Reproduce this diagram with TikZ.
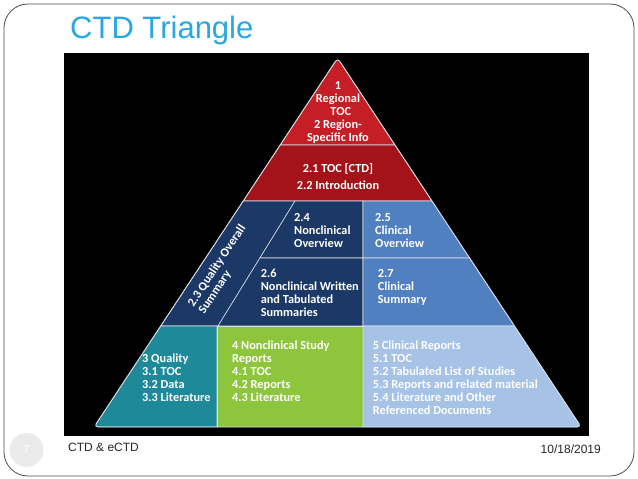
\documentclass[tikz,border=0pt]{standalone}
\usepackage{fontspec}
\setmainfont{Carlito}
\newfontfamily\slidefont{Liberation Sans}
\usetikzlibrary{positioning}
\definecolor{titleblue}{RGB}{41,168,224}
\definecolor{topred}{RGB}{198,30,38}
\definecolor{bandred}{RGB}{163,19,25}
\definecolor{navyblue}{RGB}{27,56,102}
\definecolor{midblue}{RGB}{80,128,192}
\definecolor{ctdteal}{RGB}{30,138,153}
\definecolor{ctdgreen}{RGB}{141,197,60}
\definecolor{paleblue}{RGB}{166,194,230}
\definecolor{edgegray}{RGB}{215,222,230}
\tikzset{%
  every block/.style={
    draw=edgegray,
    line width=0.6pt,
    line join=round
  },
  every caption/.style={
    text=white,
    font=\bfseries\fontsize{12.3}{13}\selectfont,
    inner sep=0pt,
    align=left,
    anchor=north west
  },
  every footer/.style={
    font=\slidefont\fontsize{12}{14}\selectfont,
    text=black!85,
    inner sep=0pt
  }
}

\begin{document}
\begin{tikzpicture}[x=1pt,y=-1pt]
		\useasboundingbox (0,0) rectangle (638,479);
		%% slide frame and title
		\draw[rounded corners=24pt, line width=0.8pt, draw=black!70] (4,4) rectangle (634,476);
		\node[anchor=base west, text=titleblue, font=\slidefont\fontsize{31}{36}\selectfont, inner sep=0pt] (title) at (70,38.3) {CTD Triangle};
		\fill[black] (64,53) rectangle (589,436);
		%% pyramid pieces
		\begin{scope}
		\clip[rounded corners=4pt] (337.6,58) -- (581.2,427) -- (94,427) -- cycle;
		% red top
		\filldraw[every block, fill=topred] (337.6,58) -- (395,145) -- (280.2,145) -- cycle;
		\filldraw[every block, fill=bandred] (280.2,145) -- (395,145) -- (432,201) -- (243.2,201) -- cycle;
		% summaries
		\filldraw[every block, fill=navyblue] (243.2,201) -- (295,201) -- (218,326) -- (160.7,326) -- cycle;
		\filldraw[every block, fill=navyblue] (295,201) -- (363,201) -- (363,258) -- (259.9,258) -- cycle;
		\filldraw[every block, fill=navyblue] (259.9,258) -- (363,258) -- (363,326) -- (218,326) -- cycle;
		\filldraw[every block, fill=midblue] (363,201) -- (432,201) -- (469.6,258) -- (363,258) -- cycle;
		\filldraw[every block, fill=midblue] (363,258) -- (469.6,258) -- (514.5,326) -- (363,326) -- cycle;
		% modules 3 to 5
		\filldraw[every block, fill=ctdteal] (160.7,326) -- (217,326) -- (217,427) -- (94,427) -- cycle;
		\filldraw[every block, fill=ctdgreen] (217,326) -- (363,326) -- (363,427) -- (217,427) -- cycle;
		\filldraw[every block, fill=paleblue] (363,326) -- (514.5,326) -- (581.2,427) -- (363,427) -- cycle;
		\end{scope}
		\draw[every block, line width=0.9pt, rounded corners=4pt] (337.6,58) -- (581.2,427) -- (94,427) -- cycle;
		%% labels
		\node[every caption, align=center, anchor=center] (m1) at (338,112) {1\\Regional\\\ \ TOC\\2 Region-\\Specific Info};
		\node[every caption, align=center, anchor=center] (m2) at (338,177) {2.1 TOC [CTD]\\[4pt]2.2 Introduction};
		\node[every caption, anchor=center, rotate=56.6] (m23) at (222.4,269.6) {2.3 Quality Overall\\Summary};
		\node[every caption] (m24) at (294,213.5) {2.4\\Nonclinical\\Overview};
		\node[every caption] (m25) at (375,213.5) {2.5\\Clinical\\Overview};
		\node[every caption] (m26) at (260.6,269) {2.6\\Nonclinical Written\\and Tabulated\\Summaries};
		\node[every caption] (m27) at (377.7,269) {2.7\\Clinical\\Summary};
		\node[every caption] (m3) at (142,353.5) {3 Quality\\3.1 TOC\\3.2 Data\\3.3 Literature};
		\node[every caption] (m4) at (232,340.5) {4 Nonclinical Study\\Reports\\4.1 TOC\\4.2 Reports\\4.3 Literature};
		\node[every caption] (m5) at (372.7,340.5) {5 Clinical Reports\\5.1 TOC\\5.2 Tabulated List of Studies\\5.3 Reports and related material\\5.4 Literature and Other\\Referenced Documents};
		%% footer
		\node[circle, fill=black!8, minimum size=34pt, inner sep=0pt, text=white, font=\slidefont\fontsize{11}{13}\selectfont] (slideno) at (26.5,450) {7};
		\node[every footer, anchor=west] (footl) at (68,447) {CTD \& eCTD};
		\node[every footer, anchor=east] (footr) at (601,449) {10/18/2019};
	\end{tikzpicture}
\end{document}
